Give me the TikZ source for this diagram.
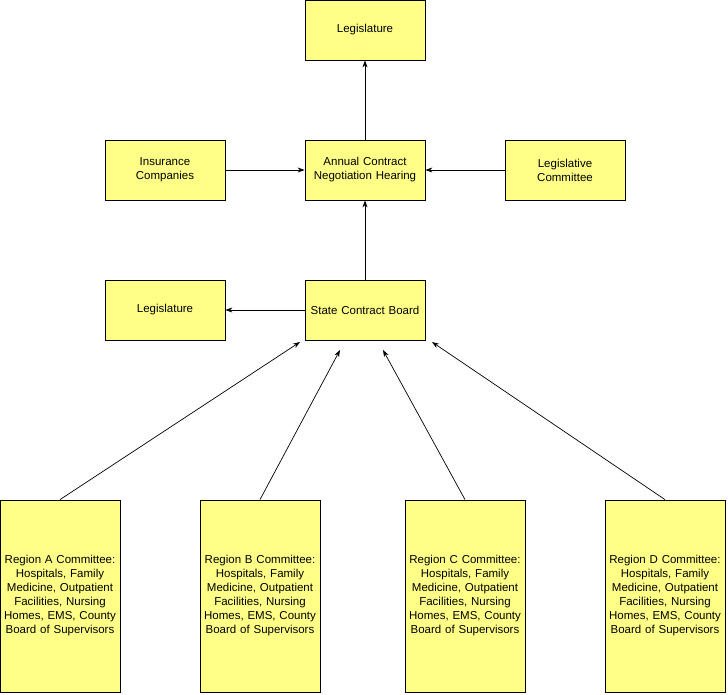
\documentclass[tikz,border=0pt]{standalone}
\usepackage{fontspec}
\setmainfont{Liberation Sans}
\usetikzlibrary{arrows.meta}
\definecolor{boxfill}{HTML}{FFFF88}
\begin{document}
\begin{tikzpicture}[x=1pt,y=-1pt,
  box/.style={draw=black,fill=boxfill,line width=0.8pt,minimum width=120pt,align=center,font=\fontsize{11.5}{14}\selectfont,inner sep=2pt},
  sbox/.style={box,minimum height=60pt,text width=112pt},
  rbox/.style={box,minimum height=192pt,text width=116pt},
  arr/.style={-{Stealth[length=7pt,width=5pt]},line width=0.7pt}]
\useasboundingbox (0,0) rectangle (728,694);
\node[sbox] (leg1) at (365,30) {Legislature};
\node[sbox] (ann) at (365,170) {Annual Contract\\Negotiation Hearing};
\node[sbox] (ins) at (165,170) {Insurance\\Companies};
\node[sbox] (lc) at (565,170) {Legislative\\Committee};
\node[sbox] (leg2) at (165,310) {Legislature};
\node[sbox] (scb) at (365,310) {State Contract Board};
\node[rbox] (ra) at (60,596) {Region A Committee:\\Hospitals, Family Medicine, Outpatient Facilities, Nursing Homes, EMS, County Board of Supervisors};
\node[rbox] (rb) at (260,596) {Region B Committee:\\Hospitals, Family Medicine, Outpatient Facilities, Nursing Homes, EMS, County Board of Supervisors};
\node[rbox] (rc) at (465,596) {Region C Committee:\\Hospitals, Family Medicine, Outpatient Facilities, Nursing Homes, EMS, County Board of Supervisors};
\node[rbox] (rd) at (665,596) {Region D Committee:\\Hospitals, Family Medicine, Outpatient Facilities, Nursing Homes, EMS, County Board of Supervisors};
\coordinate (ta) at (300,342);
\coordinate (tb) at (340,350);
\coordinate (tc) at (383,350);
\coordinate (td) at (432,342);
\draw[arr] (ann) -- (leg1);
\draw[arr] (ins) -- (ann);
\draw[arr] (lc) -- (ann);
\draw[arr] (scb) -- (ann);
\draw[arr] (scb) -- (leg2);
\draw[arr] (ra.north) -- (ta);
\draw[arr] (rb.north) -- (tb);
\draw[arr] (rc.north) -- (tc);
\draw[arr] (rd.north) -- (td);
\end{tikzpicture}
\end{document}
